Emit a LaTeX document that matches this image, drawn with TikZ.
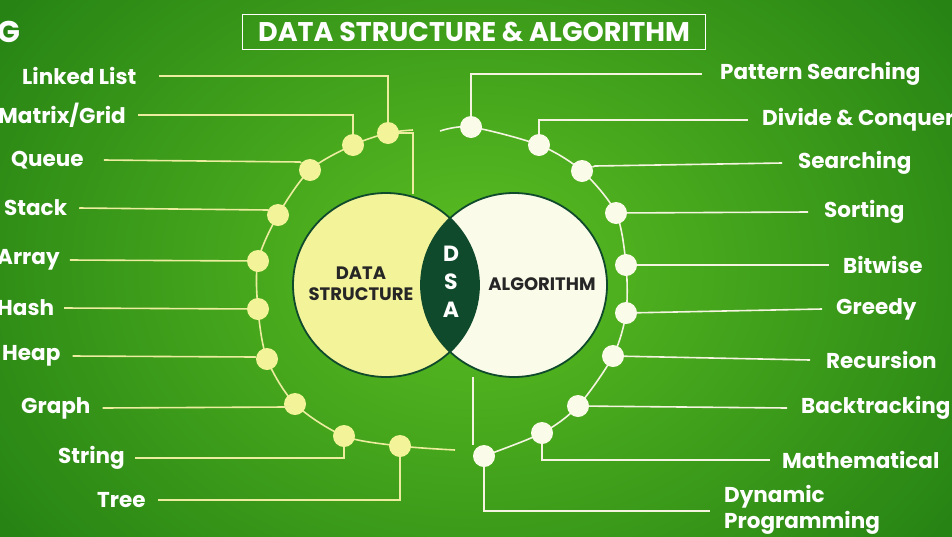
\documentclass[tikz,border=0pt]{standalone}
\usepackage{fontspec}
\setmainfont{Poppins}
\begin{document}
\begin{tikzpicture}[x=1pt,y=-1pt,
  lab/.style={text=white,font=\fontsize{21.5}{24}\selectfont\bfseries,inner sep=0},
  ldot/.style={circle,fill=dotY,minimum size=22pt,inner sep=0},
  rdot/.style={circle,fill=dotW,minimum size=22pt,inner sep=0},
  lline/.style={draw=lineY,line width=1.6pt},
  rline/.style={draw=lineW,line width=1.6pt}]
\definecolor{bgA}{HTML}{5BBE22}\definecolor{bgB}{HTML}{1E7A12}
\definecolor{dotY}{HTML}{F3F39A}\definecolor{dotW}{HTML}{FBFBEA}
\definecolor{lineY}{HTML}{EDEDA0}\definecolor{lineW}{HTML}{F4F4E0}
\definecolor{dsaG}{HTML}{0F4A2C}
\clip (0,0) rectangle (952,536);
\shade[inner color=bgA,outer color=bgB] (-200,-250) rectangle (1152,786);
% title
\node[draw=white,line width=1.5pt,minimum width=463pt,minimum height=35pt,text=white,font=\fontsize{27}{30}\selectfont\bfseries] (title) at (474,32) {DATA STRUCTURE \& ALGORITHM};
\node[lab,anchor=west,font=\fontsize{30}{32}\selectfont\bfseries] (g) at (-3,32) {G};
% rings
\draw[lline] plot[smooth] coordinates {(413,130)(388,133)(353,145)(310,170)(278,215)(258,261)(258,309)(267,359)(295,404)(344,436)(400,446)(455,450)};
\draw[rline] plot[smooth] coordinates {(440,131)(471,127)(539,145)(582,171)(616,213)(626,265)(626,313)(613,356)(578,406)(542,433)(484,456)};
% circles
\fill[dotY] (386,285) ellipse [x radius=93,y radius=92];
\fill[dotW] (514,285) ellipse [x radius=93,y radius=92];
\begin{scope}
\clip (386,285) ellipse [x radius=93,y radius=92];
\fill[dsaG] (514,285) ellipse [x radius=93,y radius=92];
\end{scope}
\draw[dsaG,line width=1.8pt] (386,285) ellipse [x radius=93,y radius=92];
\draw[dsaG,line width=1.8pt] (514,285) ellipse [x radius=93,y radius=92];
\node[font=\fontsize{18}{21}\selectfont\bfseries,text=black!85,align=center] (ds) at (361,284) {DATA\\STRUCTURE};
\node[font=\fontsize{18}{21}\selectfont\bfseries,text=black!85] (al) at (542,284) {ALGORITHM};
\node[font=\fontsize{22}{24}\selectfont\bfseries,text=white,align=center] (dsa) at (451,282) {D\\[4pt]S\\[4pt]A};
% left dots
\foreach \n/\x/\y in {ll/388/133,mg/353/145,qu/310/170,st/278/215,ar/258/261,ha/258/309,he/267/359,gr/295/404,sr/344/436,tr/400/446}
  \node[ldot] (\n) at (\x,\y) {};
\foreach \n/\x/\y in {ps/471/127,dc/539/145,se/582/171,so/616/213,bw/626/265,gd/626/313,re/613/356,bt/578/406,ma/542/433,dp/484/456}
  \node[rdot] (\n) at (\x,\y) {};
% left labels
\node[lab,anchor=west] (tll) at (22,76) {Linked List};
\node[lab,anchor=west] (tmg) at (-2,115) {Matrix/Grid};
\node[lab,anchor=west] (tqu) at (11,160) {Queue};
\node[lab,anchor=west] (tst) at (4,208) {Stack};
\node[lab,anchor=west] (tar) at (-3,260) {Array};
\node[lab,anchor=west] (tha) at (-3,308) {Hash};
\node[lab,anchor=west] (the) at (2,356) {Heap};
\node[lab,anchor=west] (tgr) at (21,408) {Graph};
\node[lab,anchor=west] (tsr) at (58,458) {String};
\node[lab,anchor=west] (ttr) at (97,500) {Tree};
\draw[lline] (ll) -- (388,76) -- ([xshift=22pt]tll.east);
\draw[lline] (ll.east) -- (413,133) -- (413,194);
\draw[lline] (mg) |- ([xshift=12pt]tmg.east);
\draw[lline] (qu) -- (300,162) -- ([xshift=20pt]tqu.east);
\draw[lline] (st) -- (268,210) -- ([xshift=12pt]tst.east);
\draw[lline] (ar) -- ([xshift=10pt]tar.east);
\draw[lline] (ha) -- ([xshift=10pt]tha.east);
\draw[lline] (he) -- (255,357) -- ([xshift=12pt]the.east);
\draw[lline] (gr) -- (285,407) -- ([xshift=12pt]tgr.east);
\draw[lline] (sr) |- ([xshift=10pt]tsr.east);
\draw[lline] (tr) |- ([xshift=12pt]ttr.east);
% right labels
\node[lab,anchor=west] (tps) at (720,74) {Pattern Searching};
\node[lab,anchor=west] (tdc) at (762,120) {Divide \& Conquer};
\node[lab,anchor=west] (tse) at (798,163) {Searching};
\node[lab,anchor=west] (tso) at (824,212) {Sorting};
\node[lab,anchor=west] (tbw) at (843,265) {Bitwise};
\node[lab,anchor=west] (tgd) at (836,309) {Greedy};
\node[lab,anchor=west] (tre) at (826,360) {Recursion};
\node[lab,anchor=west] (tbt) at (801,408) {Backtracking};
\node[lab,anchor=west] (tma) at (782,460) {Mathematical};
\node[lab,anchor=west,align=left,font=\fontsize{21.5}{26}\selectfont\bfseries] (tdp) at (724,510) {Dynamic\\Programming};
\draw[rline] (ps) |- ([xshift=-18pt]tps.west);
\draw[rline] (dc) |- ([xshift=-14pt]tdc.west);
\draw[rline] (se) -- (595,166) -- ([xshift=-16pt]tse.west);
\draw[rline] (so) -- ([xshift=-16pt]tso.west);
\draw[rline] (bw) -- ([xshift=-14pt]tbw.west);
\draw[rline] (gd) -- ([xshift=-14pt]tgd.west);
\draw[rline] (re) -- ([xshift=-16pt]tre.west);
\draw[rline] (bt) -- ([xshift=-14pt]tbt.west);
\draw[rline] (ma) |- ([xshift=-12pt]tma.west);
\draw[rline] (dp) |- (710,511);
\draw[rline] (473,377) -- (473,445);
\end{tikzpicture}
\end{document}
